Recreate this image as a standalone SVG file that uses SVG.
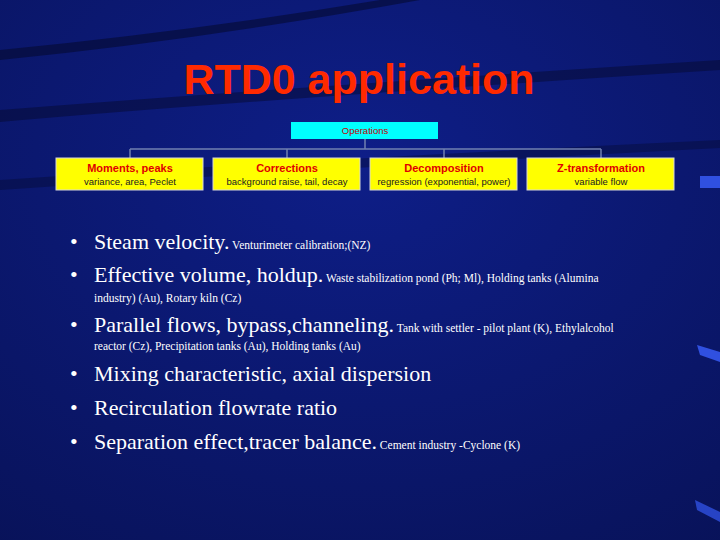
<svg xmlns="http://www.w3.org/2000/svg" width="720" height="540" viewBox="0 0 720 540">
<defs>
<radialGradient id="bg" cx="0.5" cy="0.3" r="0.9"><stop offset="0" stop-color="#0e1e88"/><stop offset="1" stop-color="#081258"/></radialGradient>
<style>
.b{fill:#ffff00;stroke:#d8d8d8;stroke-width:1}
.h{font-family:"Liberation Sans",Arial,sans-serif;font-weight:bold;font-size:11px;fill:#e00000;text-anchor:middle}
.s{font-family:"Liberation Sans",Arial,sans-serif;font-size:9.5px;fill:#202020;text-anchor:middle}
.t{font-family:"Liberation Serif","Times New Roman",serif;fill:#ffffff}
.c{stroke:#7080b0;stroke-width:1.5;fill:none}
</style>
</defs>
<rect width="720" height="540" fill="url(#bg)"/>
<path d="M0 50 Q200 30 380 0 L420 0 Q200 40 0 60Z" fill="#050a30" opacity="0.6"/>
<path d="M0 110 Q250 90 720 60 L720 70 Q250 100 0 122Z" fill="#050a30" opacity="0.5"/>
<path d="M0 180 Q300 160 720 140 L720 148 Q300 170 0 190Z" fill="#050a30" opacity="0.4"/>
<rect x="700" y="176" width="20" height="12" fill="#3050e0"/>
<path d="M697 345 L720 352 L720 362 L700 355Z" fill="#3050e0"/>
<path d="M695 500 L720 512 L720 522 L697 510Z" fill="#3050e0" opacity="0.8"/>
<text x="359" y="94" font-family="Liberation Sans,Arial,sans-serif" font-weight="bold" font-size="43" fill="#ff2a00" text-anchor="middle">RTD0 application</text>
<g id="connectors">
<path class="c" d="M365 139V149M130 149H601M130 149V158M287 149V158M444 149V158M601 149V158"/>
</g>
<g id="ops"><rect x="291" y="122" width="147" height="17" fill="#00ffff"/><text x="365" y="134" class="s" style="fill:#c00000">Operations</text></g>
<g id="n1"><rect class="b" x="56" y="158" width="147" height="32"/><text class="h" x="130" y="172">Moments, peaks</text><text class="s" x="130" y="185">variance, area, Peclet</text></g>
<g id="n2"><rect class="b" x="213" y="158" width="147" height="32"/><text class="h" x="287" y="172">Corrections</text><text class="s" x="287" y="185">background raise, tail, decay</text></g>
<g id="n3"><rect class="b" x="370" y="158" width="147" height="32"/><text class="h" x="444" y="172">Decomposition</text><text class="s" x="444" y="185">regression (exponential, power)</text></g>
<g id="n4"><rect class="b" x="527" y="158" width="147" height="32"/><text class="h" x="601" y="172">Z-transformation</text><text class="s" x="601" y="185">variable flow</text></g>
<g class="t">
<text x="70" y="249" font-size="22">•</text><text x="94" y="249" font-size="22">Steam velocity.<tspan font-size="11.5"> Venturimeter calibration;(NZ)</tspan></text>
<text x="70" y="282" font-size="22">•</text><text x="94" y="282" font-size="22">Effective volume, holdup.<tspan font-size="11.5"> Waste stabilization pond (Ph; Ml),  Holding tanks (Alumina</tspan></text>
<text x="94" y="302" font-size="11.5">industry) (Au),   Rotary kiln (Cz)</text>
<text x="70" y="332" font-size="22">•</text><text x="94" y="332" font-size="22">Parallel flows, bypass,channeling.<tspan font-size="11.5"> Tank with settler - pilot plant (K),  Ethylalcohol</tspan></text>
<text x="94" y="350" font-size="11.5">reactor (Cz), Precipitation tanks (Au), Holding tanks (Au)</text>
<text x="70" y="381" font-size="22">•</text><text x="94" y="381" font-size="22">Mixing characteristic, axial dispersion</text>
<text x="70" y="415" font-size="22">•</text><text x="94" y="415" font-size="22">Recirculation flowrate ratio</text>
<text x="70" y="449" font-size="22">•</text><text x="94" y="449" font-size="22">Separation effect,tracer balance.<tspan font-size="11.5"> Cement industry -Cyclone (K)</tspan></text>
</g>
</svg>
